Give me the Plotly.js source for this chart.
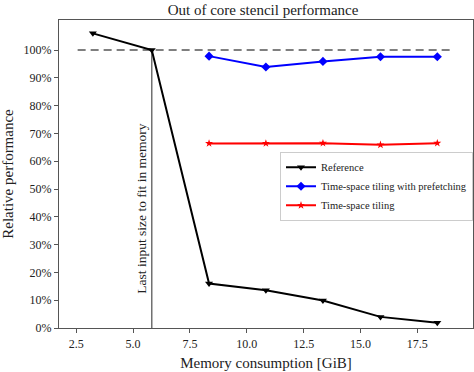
<!DOCTYPE html>
<html><head><meta charset="utf-8">
<script src="https://cdn.plot.ly/plotly-3.0.1.min.js"></script>
<style>html,body{margin:0;padding:0;background:#fff}#c{width:474px;height:372px}</style>
</head><body><div id="c"></div>
<script>
const refX = [3.23, 5.82, 8.34, 10.84, 13.35, 15.88, 18.38];
const refY = [106.0, 100.0, 16.0, 13.6, 9.9, 4.0, 1.9];
const tilingX = [8.34, 10.84, 13.35, 15.88, 18.38];
const prefetchY = [97.8, 93.9, 95.9, 97.6, 97.6];
const tilingY = [66.4, 66.4, 66.5, 65.9, 66.5];
const baselineX = [2.56, 19.1];
const baselineY = [100, 100];
const fitLimitX = [5.82, 5.82];
const fitLimitY = [0, 100];
const xTicks = [2.5, 5.0, 7.5, 10.0, 12.5, 15.0, 17.5];
const xTickText = ['2.5', '5.0', '7.5', '10.0', '12.5', '15.0', '17.5'];
const yTicks = [0, 10, 20, 30, 40, 50, 60, 70, 80, 90, 100];
const yTickText = yTicks.map(v => v + '%');
const names = ['Reference', 'Time-space tiling with prefetching', 'Time-space tiling'];
const annotationText = 'Last input size to fit in memory';

const F = 'Liberation Serif, Times New Roman, serif';
const traces = [
  {x: baselineX, y: baselineY, mode: 'lines', line: {color: '#7f7f7f', width: 2, dash: '8px,5px'}, showlegend: false, hoverinfo: 'skip'},
  {x: fitLimitX, y: fitLimitY, mode: 'lines', line: {color: '#707070', width: 1.5}, showlegend: false, hoverinfo: 'skip'},
  {x: refX, y: refY, name: names[0], mode: 'lines+markers', line: {color: '#000', width: 2}, marker: {symbol: 'triangle-down', size: 7, color: '#000'}},
  {x: tilingX, y: prefetchY, name: names[1], mode: 'lines+markers', line: {color: '#0000ff', width: 2}, marker: {symbol: 'diamond', size: 7, color: '#0000ff'}},
  {x: tilingX, y: tilingY, name: names[2], mode: 'lines+markers', line: {color: '#ff0000', width: 2}, marker: {symbol: 'star', size: 6, color: '#ff0000'}}
];
const axisCommon = {showgrid: false, zeroline: false, showline: true, mirror: true, linecolor: '#555', linewidth: 1.2,
  ticks: 'outside', ticklen: 4, tickcolor: '#555', tickfont: {family: F, size: 12, color: '#222'}};
const layout = {
  width: 474, height: 372,
  margin: {l: 59, r: 1, t: 20, b: 44},
  paper_bgcolor: '#fff', plot_bgcolor: '#fff',
  title: {text: 'Out of core stencil performance', font: {family: F, size: 15, color: '#222'}, x: 0.555, xanchor: 'center', y: 0.975, yanchor: 'middle'},
  xaxis: Object.assign({}, axisCommon, {range: [1.74, 19.95], tickvals: xTicks, ticktext: xTickText,
    title: {text: 'Memory consumption [GiB]', font: {family: F, size: 15, color: '#222'}, standoff: 8}}),
  yaxis: Object.assign({}, axisCommon, {range: [0, 110.8], tickvals: yTicks, ticktext: yTickText,
    title: {text: 'Relative performance', font: {family: F, size: 15, color: '#222'}, standoff: 9}}),
  legend: {x: 1.0, xanchor: 'right', y: 0.572, yanchor: 'top', bgcolor: 'rgba(255,255,255,0.9)', bordercolor: '#ccc', borderwidth: 1,
    font: {family: F, size: 10.5, color: '#222'}, tracegroupgap: 0, itemwidth: 30},
  annotations: [{x: 5.82, y: 43, xref: 'x', yref: 'y', text: annotationText, textangle: -90, showarrow: false,
    xanchor: 'right', xshift: -1, font: {family: F, size: 13.5, color: '#222'}}]
};
Plotly.newPlot('c', traces, layout, {displayModeBar: false, staticPlot: true});
</script></body></html>
